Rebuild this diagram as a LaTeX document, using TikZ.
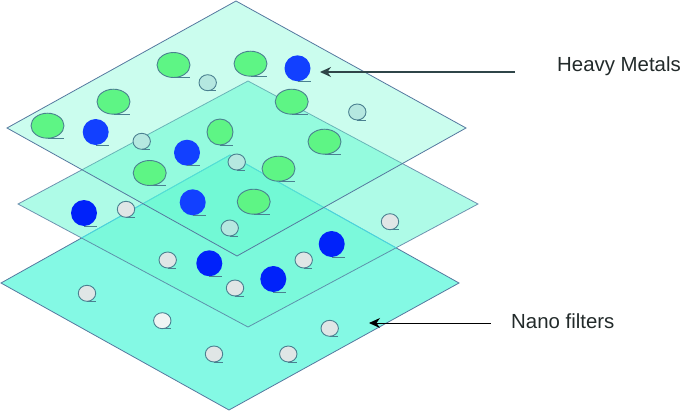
\documentclass[tikz,border=0pt]{standalone}
\usepackage{fontspec}
\setmainfont{Liberation Sans}
\usetikzlibrary{arrows.meta}
\definecolor{plateEdge}{HTML}{55789F}
\definecolor{hiddenEdge}{HTML}{45D6E2}
\definecolor{grainEdge}{HTML}{4A8090}
\definecolor{plateA}{RGB}{132,249,228}
\definecolor{plateB}{RGB}{118,249,214}
\definecolor{plateC}{RGB}{97,250,203}
\definecolor{greenG}{HTML}{5EF585}
\definecolor{blueA}{HTML}{1240FF}
\definecolor{blueB}{HTML}{0022FA}
\definecolor{tealG}{HTML}{B5E8E0}
\definecolor{greyG}{HTML}{E0E6E6}
\definecolor{paleG}{HTML}{F0F5F4}
\definecolor{labelInk}{HTML}{222A2A}
\definecolor{arrowInk}{HTML}{2F4548}
\tikzset{
  plate/.style={draw=plateEdge,line width=0.8pt,line join=miter},
  labeltext/.style={anchor=base west,inner sep=0pt,text=labelInk,font=\fontsize{20.4}{24}\selectfont},
  leader/.style={-{Stealth[length=11pt,width=10pt]},color=#1},
  grainline/.style={line width=0.9pt}
}
\newcommand{\grain}[5]{% cx cy rx ry fill
  \draw[grainline,draw=grainEdge,fill=#5] (#1,#2) ellipse [x radius=#3,y radius=#4];
  \draw[grainline,draw=grainEdge] (#1,#2+#4) -- (#1+#3,#2+#4);
}
\newcommand{\dotblue}[3]{% cx cy fill
  \fill[#3] (#1,#2) circle [x radius=13,y radius=13];
  \draw[grainline,draw=grainEdge] (#1,#2+13) -- (#1+13,#2+13);
}
\begin{document}
\begin{tikzpicture}[x=1pt,y=-1pt]
\useasboundingbox (0,0) rectangle (685,412);
% plates
\draw[plate,fill=plateA] (230,155) -- (459,283) -- (229,410) -- (1,283) -- cycle;
\draw[plate,fill=plateB,fill opacity=.59,draw opacity=.8] (248,81) -- (478,204) -- (248,327) -- (18,204) -- cycle;
\begin{scope}
  \clip (248,81) -- (478,204) -- (248,327) -- (18,204) -- cycle;
  \draw[draw=hiddenEdge,line width=0.8pt] (230,155) -- (459,283) (230,155) -- (1,283);
\end{scope}
\draw[plate,fill=plateC,fill opacity=.33] (236,1) -- (466,128) -- (237,256) -- (7,128) -- cycle;
% large green grains
\foreach \x/\y in {173.5/65,250.5/63.7,113.5/101.7,47.5/125.7,291.7/101.7,324.5/141.7,149.7/173,278.5/168.7,253.7/201.7}
  {\grain{\x}{\y}{16.5}{12.5}{greenG}}
\grain{220}{132}{13}{13}{greenG}
% blue grains
\foreach \x/\y in {297.5/68.3,95.7/132,187/152.7,192.7/202.3}
  {\dotblue{\x}{\y}{blueA}}
\foreach \x/\y in {84/213,209.3/263.3,273.3/279,331.7/244}
  {\dotblue{\x}{\y}{blueB}}
% small tinted grains
\foreach \x/\y in {207.7/82.7,357.3/112,141.7/141.3,236.7/162,229.7/228}
  {\grain{\x}{\y}{8.7}{8}{tealG}}
% small grey grains
\foreach \x/\y in {126/209.3,167.7/260,303.7/260,235/288,87/293.3,214/354,288.3/354,329.7/328.3,390/221.7}
  {\grain{\x}{\y}{8.7}{8}{greyG}}
\grain{162.3}{320.7}{8.7}{8}{paleG}
% labels and leaders
\node[labeltext] (heavy) at (557,71) {Heavy Metals};
\node[labeltext] (nano) at (511,328) {Nano filters};
\coordinate (heavyTail) at (515,72);
\coordinate (heavyHead) at (320,72);
\coordinate (nanoTail) at (490.5,323);
\coordinate (nanoHead) at (369,323);
\draw[leader=arrowInk,line width=1.4pt] (heavyTail) -- (heavyHead);
\draw[leader=black,line width=0.9pt] (nanoTail) -- (nanoHead);
\end{tikzpicture}
\end{document}
